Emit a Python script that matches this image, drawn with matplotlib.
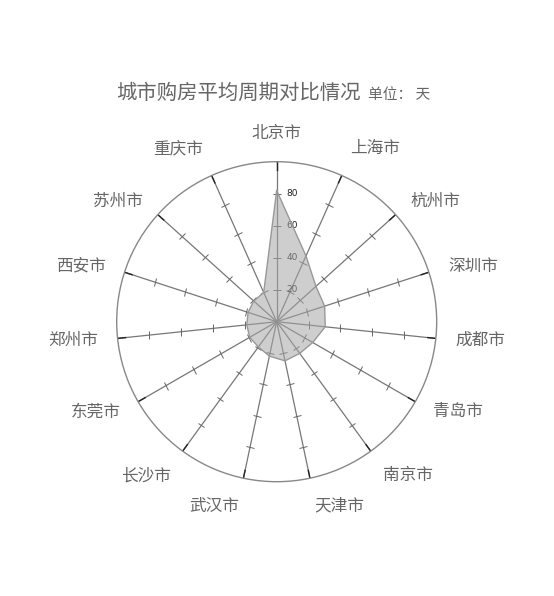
import numpy as np
import matplotlib
matplotlib.use("Agg")
import matplotlib.pyplot as plt
from matplotlib.markers import MarkerStyle
from matplotlib.transforms import Affine2D

plt.rcParams['font.family'] = ['Noto Sans CJK SC', 'DejaVu Sans']

cities = ["北京市", "上海市", "杭州市", "深圳市", "成都市", "青岛市", "南京市", "天津市",
          "武汉市", "长沙市", "东莞市", "郑州市", "西安市", "苏州市", "重庆市"]
days = [82, 45, 33, 31.5, 30.5, 26, 24.5, 25, 22, 19.5, 19.5, 18.8, 18.8, 19.3, 20]
ring_ticks = [20, 40, 60, 80]
rmax = 100
title_main = "城市购房平均周期对比情况"
title_sub = "单位： 天"

W, H = 554, 596
fig = plt.figure(figsize=(W / 100, H / 100), dpi=100)
cx, cy, R = 276.7, 321.7, 160
ax = fig.add_axes([(cx - R) / W, (H - cy - R) / H, 2 * R / W, 2 * R / H], projection='polar')
ax.set_theta_zero_location('N')
ax.set_theta_direction(-1)
ax.set_ylim(0, rmax)
ax.set_xticks([])
ax.set_yticks([])
ax.grid(False)
ax.spines['polar'].set_color('#888888')
ax.spines['polar'].set_linewidth(1.0)
ax.set_facecolor('white')

n = len(cities)
angles = np.arange(n) * 2 * np.pi / n

for i, a in enumerate(angles):
    ax.plot([a, a], [0, rmax], color='#777777', lw=0.9, zorder=1)
    ax.plot([a, a], [95, rmax], color='#222222', lw=1.0, zorder=1.1)
    deg = np.degrees(a)
    m = MarkerStyle('_', transform=Affine2D().rotate_deg(-deg))
    ax.plot([a] * len(ring_ticks), ring_ticks, linestyle='none', marker=m,
            markersize=6, markeredgewidth=0.7, color='#666666', zorder=1.2)

for v in ring_ticks:
    ax.annotate(str(v), xy=(0, v), xytext=(7, 0), textcoords='offset points',
                ha='left', va='center', fontsize=6.5, color='#222222', zorder=1.5,
                family=['DejaVu Sans'])

th = np.concatenate([angles, angles[:1]])
vals = np.concatenate([days, days[:1]])
ax.fill(th, vals, color='#a6a6a6', alpha=0.55, zorder=2, lw=0)
ax.plot(th, vals, color='#999999', lw=1.0, zorder=2.1)

gap = 20 * 0.72
for name, a in zip(cities, angles):
    s, c = np.sin(a), np.cos(a)
    ha = 'center' if abs(s) < 0.01 else ('left' if s > 0 else 'right')
    if c > 0.766:
        va = 'bottom'
    elif c < -0.766:
        va = 'top'
    else:
        va = 'center'
    ax.annotate(name, xy=(a, rmax), xytext=(s * gap, c * gap), textcoords='offset points',
                ha=ha, va=va, fontsize=12, color='#666666', annotation_clip=False)

base_y = (H - 98.5) / H
fig.text(361 / W, base_y, title_main, ha='right', va='baseline', fontsize=14.7, color='#666666')
fig.text(368 / W, base_y, title_sub, ha='left', va='baseline', fontsize=10.6, color='#666666')

fig.savefig('out.png', dpi=100, facecolor='white')
